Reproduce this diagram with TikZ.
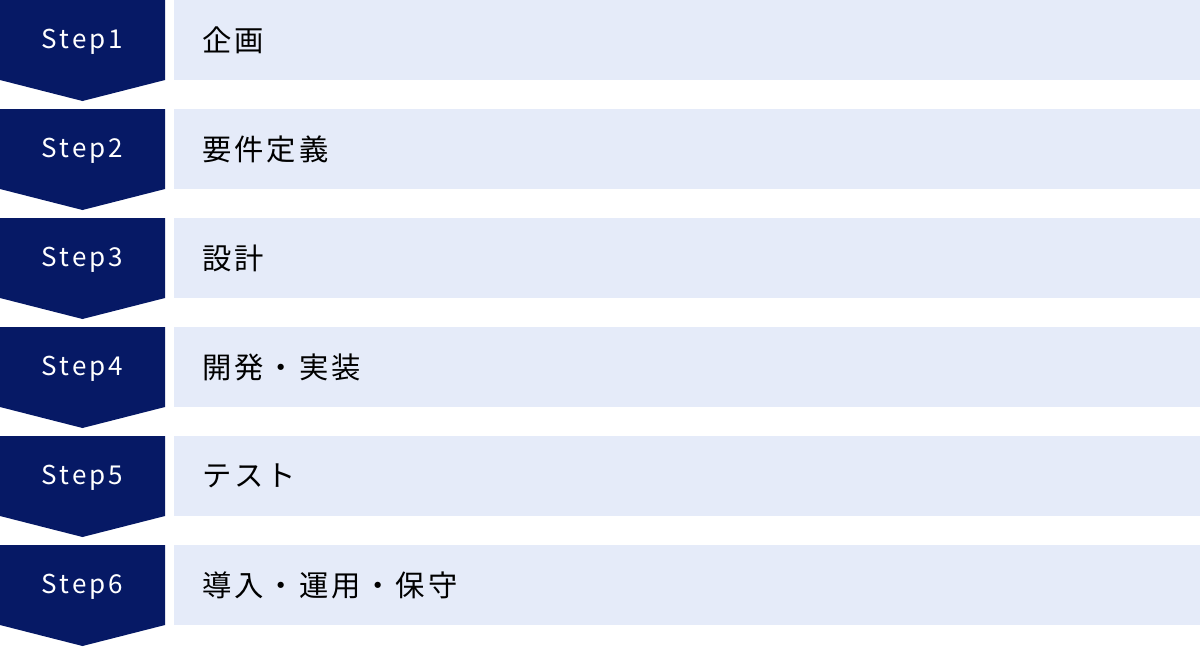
\documentclass[tikz,border=0pt]{standalone}
\usepackage{fontspec}
\setmainfont{Noto Sans CJK JP}
\newfontfamily\stepfont{Noto Sans CJK JP}[LetterSpace=12]
\newfontfamily\jpfont{Noto Sans CJK JP}[LetterSpace=10]
\usepackage{tikz}
\usetikzlibrary{positioning}
\definecolor{stepnavy}{RGB}{6, 25, 101}
\definecolor{phaselight}{RGB}{229, 235, 249}

\begin{document}
\begin{tikzpicture}[
  x=0.75pt, y=-0.75pt,
  steplabel/.style={text=white, font=\stepfont\fontsize{19.5}{22}\selectfont, inner sep=0pt},
  phasebox/.style={fill=phaselight, anchor=north west, minimum height=60pt, text width=727.5pt, inner xsep=21pt, inner ysep=0pt, align=left, font=\jpfont\fontsize{22}{26}\selectfont}
]
  \useasboundingbox (0,0) rectangle (1200,647);
  % navy arrows
  \foreach \y in {0,109,...,545}
    \fill[stepnavy] (0,\y) -- ++(165,0) -- ++(0,80) -- ++(-82.5,21) -- ++(-82.5,-21) -- cycle;

  \node[steplabel] (step1) at (82.5, 42)  {Step1};
  \node[steplabel] (step2) at (82.5, 151) {Step2};
  \node[steplabel] (step3) at (82.5, 260) {Step3};
  \node[steplabel] (step4) at (82.5, 369) {Step4};
  \node[steplabel] (step5) at (82.5, 478) {Step5};
  \node[steplabel] (step6) at (82.5, 587) {Step6};

  \node[phasebox] (phase1) at (174, 0)   {企画};
  \node[phasebox] (phase2) at (174, 109) {要件定義};
  \node[phasebox] (phase3) at (174, 218) {設計};
  \node[phasebox] (phase4) at (174, 327) {開発・実装};
  \node[phasebox] (phase5) at (174, 436) {テスト};
  \node[phasebox] (phase6) at (174, 545) {導入・運用・保守};
\end{tikzpicture}
\end{document}
